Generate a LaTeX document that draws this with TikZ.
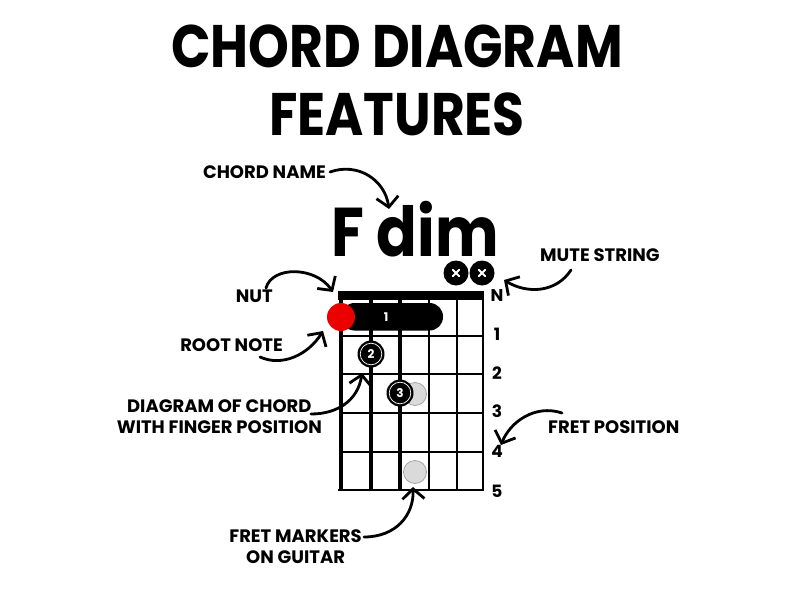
\documentclass[tikz,border=0pt]{standalone}
\usepackage{fontspec}
\setmainfont{Poppins}[BoldFont=* Bold]
\usetikzlibrary{arrows.meta}
\definecolor{rootred}{RGB}{235,0,0}
\definecolor{markfill}{RGB}{218,218,218}
\definecolor{markdraw}{RGB}{165,165,165}
\tikzset{
  lbl/.style={font=\bfseries\fontsize{18}{21}\selectfont, inner sep=0pt, align=center},
  fretnum/.style={font=\bfseries\fontsize{17}{17}\selectfont, inner sep=0pt},
  pointer/.style={line width=2.8pt, line cap=round, -{Straight Barb[length=10pt,width=22pt,line width=2.8pt]}},
  finger/.style={circle, fill=black, minimum size=27pt, inner sep=0pt, text=white, font=\bfseries\fontsize{12}{12}\selectfont},
  marker/.style={circle, fill=markfill, draw=markdraw, line width=0.8pt, minimum size=23pt, inner sep=0pt},
  mute/.style={circle, fill=black, minimum size=25pt, inner sep=0pt},
  titletext/.style={font=\bfseries\fontsize{60}{60}\selectfont, inner sep=0pt},
}
\begin{document}
\begin{tikzpicture}[x=1pt,y=-1pt]
\useasboundingbox (0,0) rectangle (794,596);
% title
\node[titletext] (t1) at (397,46) {\scalebox{0.865}[1]{CHORD DIAGRAM}};
\node[titletext] (t2) at (397,114) {\scalebox{0.865}[1]{FEATURES}};
% chord name
\node[font=\bfseries\fontsize{69}{69}\selectfont, inner sep=0pt, anchor=base] (cname) at (415,256) {\scalebox{0.87}[1]{F dim}};
% grid
\foreach \y in {336,374,413,452} \draw[line width=2.2pt] (340,\y) -- (483,\y);
\draw[line width=2.6pt] (338,490) -- (484,490);
\foreach \x/\w in {341/4.5,371/4,400/3.5,429/2.6,457/2.2,483/2.2} \draw[line width=\w pt] (\x,294) -- (\x,491);
\fill (338,290.5) rectangle (484.1,299.5);
% fret markers
\node[marker] (m3) at (415,394) {};
\node[marker] (m5) at (415,472) {};
% barre
\fill[rounded corners=13.5pt] (341,303) rectangle (443,330.5);
\node[text=white, font=\bfseries\fontsize{12}{12}\selectfont, inner sep=0pt] (b1) at (386,317) {1};
\node[circle, fill=rootred, minimum size=28pt, inner sep=0pt] (root) at (341,317) {};
% fingers
\node[finger] (f2) at (371,354) {2};
\draw[white, line width=0.7pt] (f2.center) circle (10.8pt);
\node[finger] (f3) at (400,393) {3};
\draw[white, line width=0.7pt] (f3.center) circle (10.8pt);
% mutes
\foreach \x/\n in {456/mA,482/mB}{
  \node[mute] (\n) at (\x,273) {};
  \draw[white, line width=1.9pt, line cap=round] ([shift={(-3.3,-3.3)}]\n.center) -- ([shift={(3.3,3.3)}]\n.center)
       ([shift={(-3.3,3.3)}]\n.center) -- ([shift={(3.3,-3.3)}]\n.center);
}
% fret numbers
\node[fretnum] (nN) at (497,296) {N};
\node[fretnum] (n1) at (497,334) {1};
\node[fretnum] (n2) at (497,373) {2};
\node[fretnum] (n3) at (497,411) {3};
\node[fretnum] (n4) at (497,451) {4};
\node[fretnum] (n5) at (497,491) {5};
% labels
\node[lbl, anchor=east] (lname) at (326,172) {CHORD NAME};
\node[lbl, anchor=east] (lnut) at (273,296) {NUT};
\node[lbl, anchor=east] (lroot) at (283,345) {ROOT NOTE};
\node[lbl, anchor=east] (ldiag) at (322,417) {DIAGRAM OF CHORD\\WITH FINGER POSITION};
\node[lbl, anchor=west] (lmute) at (540,255) {MUTE STRING};
\node[lbl, anchor=west] (lfret) at (548,427) {FRET POSITION};
\node[lbl, anchor=east] (lmark) at (362,547) {FRET MARKERS\\ON GUITAR};
% pointer targets
\coordinate (pName) at (389,209);
\coordinate (pNut) at (333,292);
\coordinate (pRoot) at (323,331);
\coordinate (pDiag) at (362,373);
\coordinate (pMute) at (504,280);
\coordinate (pFret) at (501,445);
\coordinate (pMark) at (413,487);
% pointers
\draw[pointer] ([xshift=4pt]lname.east) .. controls (358,162) and (385,180) .. (pName);
\draw[pointer] (266,288) .. controls (272,266) and (315,266) .. (pNut);
\draw[pointer] (260,357) .. controls (282,367) and (308,355) .. (pRoot);
\draw[pointer] (311,414) .. controls (338,414) and (358,400) .. (pDiag);
\draw[pointer] (571,270) .. controls (556,293) and (527,294) .. (pMute);
\draw[pointer] (562,413) .. controls (535,404) and (510,422) .. (pFret);
\draw[pointer] (364,537) .. controls (396,537) and (414,515) .. (pMark);
\end{tikzpicture}
\end{document}
